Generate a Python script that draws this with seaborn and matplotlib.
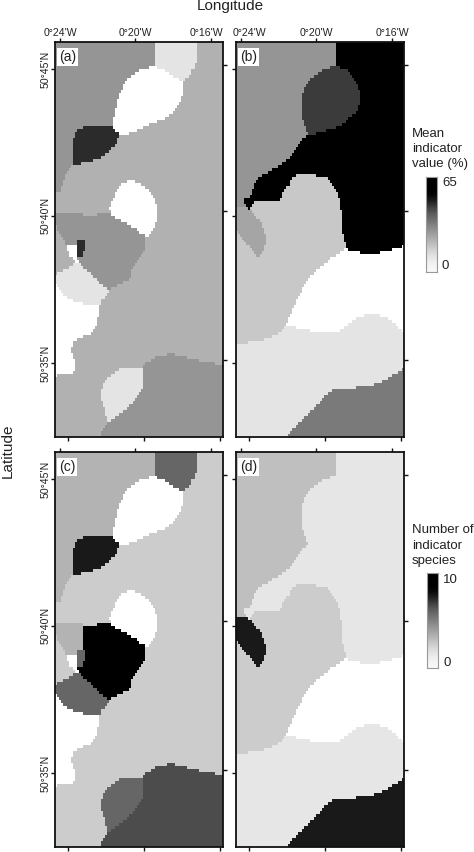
import numpy as np
import seaborn as sns
import matplotlib
matplotlib.use("Agg")
import matplotlib.pyplot as plt
from matplotlib.transforms import ScaledTranslation
import re

sns.set_style("white")
plt.rcParams['font.family'] = ['Liberation Sans', 'DejaVu Sans']

# zone maps: each row lists "zone + end column"
ZONES_AC = """G50 T71 L84
G50 T71 L84
G50 T71 L84
G50 T71 L84
G50 T71 L84
G50 T71 L84
G50 T71 L84
G50 T70 L84
G47 W51 T70 L84
G42 W55 T68 L84
G40 W57 T68 L84
G38 W59 T67 L84
G36 W62 T65 L84
G35 W64 L84
G34 W64 L84
G34 W64 L84
G33 W64 L84
G32 W64 L84
G32 W63 L84
G31 W63 L84
G31 W62 L84
G31 W61 L84
G30 W60 L84
G30 W59 L84
G30 W57 L84
G29 W55 L84
G29 W51 L84
G29 W47 L84
G14 D29 W44 L84
G11 D30 W41 L84
G10 D32 W37 L84
G10 D32 L84
G9 D31 L84
G9 D31 L84
G9 D30 L84
G9 D28 L84
G9 D27 L84
G9 D25 L84
G9 D23 L84
G9 D19 L84
G9 D13 L84
G8 L84
G7 L84
G6 L84
G5 L84
G5 L84
G4 L36 W40 L84
G4 L33 W43 L84
G3 L32 W45 L84
G3 L31 W47 L84
L30 W48 L84
L30 W49 L84
L29 W50 L84
L28 W50 L84
L28 W51 L84
L27 W51 L84
L28 W51 L84
K14 L21 M28 W51 L84
K14 M30 W51 L84
K14 M33 W51 L84
K14 M36 W50 L84
L1 K14 M38 W50 L84
L1 K14 M41 W49 L84
L2 K14 M42 W48 L84
L3 K14 M45 W47 L84
L4 K14 M45 L84
L5 K11 S15 M45 L84
L5 K11 S15 M45 L84
L6 W11 S15 M45 L84
L6 W11 S15 M45 L84
L7 W11 S14 M44 L84
L7 W11 S14 M43 L84
L9 W11 M42 L84
L10 W12 M41 L84
L9 E13 M40 L84
L7 E14 M39 L84
L4 E16 M38 L84
L1 E18 M38 L84
E19 M38 L84
E21 M37 L84
E22 M34 L84
W1 E24 M31 L84
W2 E26 M28 L84
W3 E27 L84
W4 E26 L84
W6 E25 L84
W9 E23 L84
W14 E23 L84
W22 L84
W22 L84
W22 L84
W22 L84
W21 L84
W21 L84
W21 L84
W20 L84
W19 L84
W18 L84
W14 L84
W11 L84
W9 L84
W9 L84
W8 L84
W8 L84
W9 L56 B60 L84
W9 L50 B66 L84
W10 L48 B72 L84
W10 L45 B80 L84
W10 L44 B84
W10 L32 P44 B84
W9 L30 P44 B84
W1 L28 P44 B84
L26 P44 B84
L25 P44 B84
L24 P44 B84
L24 P44 B84
L23 P43 B84
L23 P42 B84
L23 P41 B84
L23 P40 B84
L24 P39 B84
L24 P37 B84
L25 P36 B84
L25 P34 B84
L25 P32 B84
L26 P30 B84
L26 P28 B84
L26 B84
L25 B84
L24 B84
L23 B84
L23 B84"""

ZONES_BD = """N50 X84
N50 X84
N50 X84
N50 X84
N50 X84
N50 X84
N50 X84
N50 X84
N47 O52 X84
N43 O56 X84
N41 O57 X84
N39 O58 X84
N37 O59 X84
N36 O60 X84
N35 O61 X84
N34 O61 X84
N34 O62 X84
N33 O62 X84
N33 O62 X84
N33 O62 X84
N33 O62 X84
N33 O61 X84
N33 O61 X84
N33 O60 X84
N33 O58 X84
N33 O56 X84
N34 O55 X84
N34 O53 X84
N35 O50 X84
N35 O45 X84
N36 O40 X84
N35 X84
N33 X84
N32 X84
N31 X84
N30 X84
N29 X84
N28 X84
N27 X84
N25 X84
N23 X84
N21 X84
N18 X84
N16 X84
N13 X30 Y40 X84
N11 X28 Y46 X84
N10 X27 Y47 X84
N9 X27 Y48 X84
N9 X25 Y49 X84
N8 X24 Y50 X84
N8 X23 Y51 X84
N7 X23 Y51 X84
N4 Z9 X22 Y52 X84
N4 Z9 Y52 X84
N5 Z8 Y52 X84
F6 Z7 Y52 X84
F8 Y53 X84
F9 Y53 X84
F10 Y53 X84
F12 Y53 X84
F13 Y53 X84
F13 Y53 X84
F14 Y53 X84
Y1 F14 Y53 X84
Y2 F15 Y54 X84
Y3 F15 Y54 X84
Y4 F15 Y54 X84
Y5 F15 Y55 X84
Y7 F14 Y55 X83 W84
Y8 F14 Y54 W56 X78 W84
Y9 F13 Y52 W62 X72 W84
Y10 F12 Y50 W84
Y47 W84
Y46 W84
Y44 W84
Y42 W84
Y40 W84
Y39 W84
Y37 W84
Y36 W84
Y35 W84
Y34 W84
Y33 W84
Y33 W84
Y32 W84
Y31 W84
Y30 W84
Y30 W84
Y29 W84
Y28 W84
Y28 W84
Y27 W64 H72 W84
Y26 W60 H76 W84
Y26 W58 H78 W84
Y25 W56 H80 W84
Y24 H30 W54 H81 W84
Y23 H37 W52 H83 W84
Y21 H84
Y18 H84
Y14 H84
Y6 H84
H84
H84
H84
H84
H84
H84
H84
H84
H83 R84
H81 R84
H78 R84
H76 R84
H73 R84
H69 R84
H60 R84
H48 R84
H46 R84
H44 R84
H43 R84
H42 R84
H40 R84
H39 R84
H37 R84
H36 R84
H34 R84
H33 R84
H31 R84
H30 R84
H28 R84
H27 R84
H26 R84"""

# mean indicator value (%) per zone
VALUES_A = dict(G=27, T=7, W=0, D=54, L=20, K=27, M=27, S=54, E=7, P=7, B=27)
VALUES_B = dict(N=27, X=65, O=50, Y=14, F=23, Z=65, W=0, H=7, R=34)
# number of indicator species per zone
VALUES_C = dict(G=3, T=6, W=0, D=9, L=2, K=3, M=10, S=6, E=6, P=6, B=7)
VALUES_D = dict(N=2.5, X=1, O=1, Y=2, F=9, Z=1, W=0, H=1, R=9)

LON_LABELS = ["0°24'W", "0°20'W", "0°16'W"]
LAT_LABELS = ["50°45'N", "50°40'N", "50°35'N"]
BOTTOM_TICKS = [6.5, 44.5, 82.5]
TOP_TICKS = [2.5, 40, 78]
LEFT_TICKS = [4.5, 29, 53.7]
RIGHT_TICKS = [3.8, 28.3, 53.2]
BAR_LEVELS = [1.0, 1.0, 0.97, 0.8, 0.65, 0.55, 0.45, 0.35, 0.25, 0.15, 0.08, 0.03]


def expand(zone_text, values):
    rows = []
    for line in zone_text.splitlines():
        row, start = [], 0
        for zone, end in re.findall(r"([A-Z])(\d+)", line):
            row += [values[zone]] * (int(end) - start)
            start = int(end)
        assert start == 84, line
        rows.append(row)
    return np.array(rows, dtype=float)


W, H = 474, 852
fig = plt.figure(figsize=(W / 100, H / 100), dpi=100)


def box(x0, y0, x1, y1):
    return fig.add_axes([x0 / W, 1 - y1 / H, (x1 - x0) / W, (y1 - y0) / H])


TICK_FS = 7.6
panels = [
    ("(a)", ZONES_AC, VALUES_A, 65, (55, 42, 223, 437), True, True, [0, 0, -5]),
    ("(b)", ZONES_BD, VALUES_B, 65, (236, 42, 404, 437), False, True, [8.7, 0, 0]),
    ("(c)", ZONES_AC, VALUES_C, 10, (55, 452, 223, 847), True, False, [0, 0, 0]),
    ("(d)", ZONES_BD, VALUES_D, 10, (236, 452, 404, 847), False, False, [0, 0, 0]),
]
for tag, zones, values, vmax, rect, show_lat, show_lon, shifts in panels:
    ax = box(*rect)
    data = expand(zones, values)
    sns.heatmap(data, ax=ax, cmap="gray_r", vmin=0, vmax=vmax,
                cbar=False, xticklabels=False, yticklabels=False)
    for sp in ax.spines.values():
        sp.set_visible(True)
        sp.set_color("#111111")
        sp.set_linewidth(1.3)
    scale = data.shape[0] / 66
    ax.set_xticks(BOTTOM_TICKS, labels=[])
    ax.set_yticks([v * scale for v in LEFT_TICKS])
    ax.tick_params(axis="both", length=3, width=1.0, color="#111111", pad=0.5,
                   left=True, bottom=True)
    if show_lat:
        ax.set_yticklabels(LAT_LABELS, rotation=90, va="center", fontsize=TICK_FS, color="#222222")
    else:
        ax.set_yticklabels([])
    top = ax.secondary_xaxis("top")
    top.tick_params(length=3, width=1.0, color="#111111", pad=0)
    top.set_xticks(TOP_TICKS, labels=LON_LABELS if show_lon else [], fontsize=TICK_FS, color="#222222")
    top.spines["top"].set_visible(False)
    if show_lon:
        for lab, dx in zip(top.get_xticklabels(), shifts):
            lab.set_transform(lab.get_transform() + ScaledTranslation(dx / 100, 0, fig.dpi_scale_trans))
    right = ax.secondary_yaxis("right")
    right.set_yticks([v * scale for v in RIGHT_TICKS], labels=[])
    right.tick_params(length=3, width=1.0, color="#111111")
    right.spines["right"].set_visible(False)
    ax.text(2, 1.3 * scale, tag, fontsize=10, color="#222222", ha="left", va="top",
            bbox=dict(facecolor="white", edgecolor="none", pad=1.5))

# colour bars
for vmax, rect, hi, label, ly, hi_y, lo_y in [
    (65, (426, 177, 437, 272), "65", ["Mean", "indicator", "value (%)"], [134, 149, 164], 183, 266),
    (10, (427, 573, 438, 668), "10", ["Number of", "indicator", "species"], [530, 546, 561], 580, 663),
]:
    cax = box(*rect)
    grad = np.array(BAR_LEVELS).reshape(-1, 1) * vmax
    sns.heatmap(grad, ax=cax, cmap="gray_r", vmin=0, vmax=vmax, cbar=False,
                xticklabels=False, yticklabels=False)
    cax.collections[0].remove()
    cax.imshow(grad, cmap="gray_r", vmin=0, vmax=vmax, aspect="auto", interpolation="bicubic",
               extent=(0, 1, len(BAR_LEVELS), 0))
    for sp in cax.spines.values():
        sp.set_visible(True)
        sp.set_color("#999999")
        sp.set_linewidth(0.8)
    fig.text((rect[2] + 5) / W, 1 - hi_y / H, hi, fontsize=9.5, va="center", color="#222222")
    fig.text((rect[2] + 5) / W, 1 - lo_y / H, "0", fontsize=9.5, va="center", color="#222222")
    for s, y in zip(label, ly):
        fig.text(412 / W, 1 - y / H, s, fontsize=9.5, va="center", color="#222222")

fig.text(230 / W, 1 - 6 / H, "Longitude", fontsize=11, ha="center", va="center", color="#222222")
fig.text(8 / W, 1 - 451 / H, "Latitude", fontsize=11, rotation=90, ha="center", va="center", color="#222222")

fig.savefig("out.png", dpi=100, facecolor="white")
